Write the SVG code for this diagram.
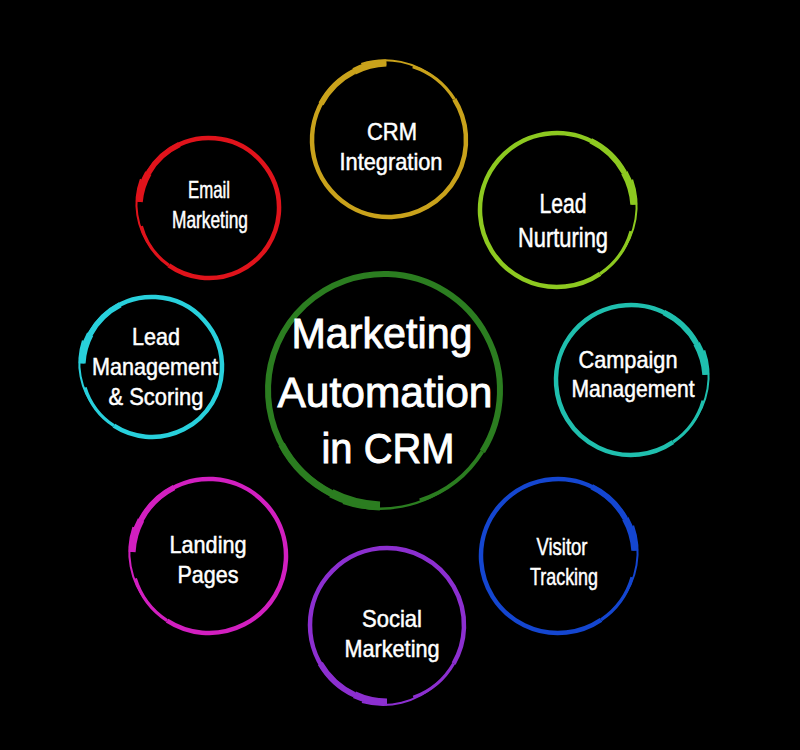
<svg xmlns="http://www.w3.org/2000/svg" xmlns:xlink="http://www.w3.org/1999/xlink" width="800" height="750" viewBox="0 0 800 750">
<style>
path{fill:none}
.m{stroke-width:4.5}
.m2{stroke-width:3.2}
.k1{stroke-width:7}
.k2{stroke-width:5.6}
.t{stroke-width:2}
.cm{stroke-width:6}
.cm2{stroke-width:4}
.ck1{stroke-width:9}
.ck2{stroke-width:7}
.ct{stroke-width:2.5}
text{font-family:"Liberation Sans",Arial,sans-serif;fill:#fff;stroke:#fff;text-anchor:middle}
.s{font-size:24px;stroke-width:0.5}
.b{font-size:43px;stroke-width:0.9}
</style>
<defs>
<g id="r70">
<path class="m" d="M70,0 A70 70 0 0 1 -70,0 A70 70 0 0 1 35,-60.62"/>
<path class="m2" d="M35,-60.62 A70 70 0 0 1 65.78,-23.94"/>
<path class="k1" d="M70,0 A70 70 0 0 1 63.44,29.58"/>
<path class="k2" d="M63.44,29.58 A70 70 0 0 1 35,60.62"/>
<path class="t" d="M53.62,-45 A72 72 0 0 1 70.38,22.87"/>
</g>
<g id="r75">
<path class="m" d="M75,0 A75 75 0 0 1 -75,0 A75 75 0 0 1 37.5,-64.95"/>
<path class="m2" d="M37.5,-64.95 A75 75 0 0 1 70.48,-25.65"/>
<path class="k1" d="M75,0 A75 75 0 0 1 67.97,31.7"/>
<path class="k2" d="M67.97,31.7 A75 75 0 0 1 37.5,64.95"/>
<path class="t" d="M57.45,-48.21 A77 77 0 0 1 75.14,24.41"/>
</g>
<g id="r77">
<path class="m" d="M77,0 A77 77 0 0 1 -77,0 A77 77 0 0 1 38.5,-66.68"/>
<path class="m2" d="M38.5,-66.68 A77 77 0 0 1 72.36,-26.33"/>
<path class="k1" d="M77,0 A77 77 0 0 1 69.79,32.54"/>
<path class="k2" d="M69.79,32.54 A77 77 0 0 1 38.5,66.68"/>
<path class="t" d="M58.98,-49.5 A79 79 0 0 1 77.04,25.03"/>
</g>
<g id="r116">
<path class="cm" d="M116,0 A116 116 0 0 1 -116,0 A116 116 0 0 1 58,-100.46"/>
<path class="cm2" d="M58,-100.46 A116 116 0 0 1 109.01,-39.67"/>
<path class="ck1" d="M116,0 A116 116 0 0 1 105.13,49.02"/>
<path class="ck2" d="M105.13,49.02 A116 116 0 0 1 58,100.46"/>
<path class="ct" d="M88.86,-74.56 A118 118 0 0 1 114.13,37.08"/>
</g>
</defs>
<rect width="800" height="750" fill="#000"/>
<g id="connectors"></g>
<g id="center">
<use xlink:href="#r116" transform="translate(384,390) rotate(92)" stroke="#2b7d20"/>
<text class="b" x="382" y="348" textLength="181" lengthAdjust="spacingAndGlyphs">Marketing</text>
<text class="b" x="385" y="407" textLength="215" lengthAdjust="spacingAndGlyphs">Automation</text>
<text class="b" x="388" y="463" textLength="133" lengthAdjust="spacingAndGlyphs">in CRM</text>
</g>
<g id="crm-integration">
<use xlink:href="#r77" transform="translate(389,140) rotate(268) scale(1,-1)" stroke="#c9a21b"/>
<text class="s" x="392" y="140" textLength="50" lengthAdjust="spacingAndGlyphs">CRM</text>
<text class="s" x="391" y="170" textLength="103" lengthAdjust="spacingAndGlyphs">Integration</text>
</g>
<g id="email-marketing">
<use xlink:href="#r70" transform="translate(209,208) rotate(185)" stroke="#e0131b"/>
<text class="s" x="209" y="198" textLength="42" lengthAdjust="spacingAndGlyphs">Email</text>
<text class="s" x="210" y="228" textLength="76" lengthAdjust="spacingAndGlyphs">Marketing</text>
</g>
<g id="lead-nurturing">
<use xlink:href="#r77" transform="translate(557,210) rotate(356) scale(1,-1)" stroke="#8dc920"/>
<text class="s" x="563" y="213" textLength="47" lengthAdjust="spacingAndGlyphs" style="font-size:27px">Lead</text>
<text class="s" x="563" y="247" textLength="90" lengthAdjust="spacingAndGlyphs" style="font-size:27px">Nurturing</text>
</g>
<g id="lead-management">
<use xlink:href="#r70" transform="translate(152,367) rotate(183)" stroke="#28d0dc"/>
<text class="s" x="156" y="345" textLength="48" lengthAdjust="spacingAndGlyphs">Lead</text>
<text class="s" x="155" y="375" textLength="126" lengthAdjust="spacingAndGlyphs">Management</text>
<text class="s" x="156" y="405" textLength="95" lengthAdjust="spacingAndGlyphs">&amp; Scoring</text>
</g>
<g id="campaign-management">
<use xlink:href="#r75" transform="translate(631,380) rotate(356) scale(1,-1)" stroke="#1fbfae"/>
<text class="s" x="628" y="368" textLength="99" lengthAdjust="spacingAndGlyphs">Campaign</text>
<text class="s" x="633" y="397" textLength="123" lengthAdjust="spacingAndGlyphs">Management</text>
</g>
<g id="visitor-tracking">
<use xlink:href="#r77" transform="translate(558,556) rotate(356) scale(1,-1)" stroke="#1446d0"/>
<text class="s" x="562" y="555" textLength="51" lengthAdjust="spacingAndGlyphs">Visitor</text>
<text class="s" x="564" y="585" textLength="68" lengthAdjust="spacingAndGlyphs">Tracking</text>
</g>
<g id="social-marketing">
<use xlink:href="#r77" transform="translate(387,625) rotate(90)" stroke="#8c2fd0"/>
<text class="s" x="392" y="627" textLength="60" lengthAdjust="spacingAndGlyphs">Social</text>
<text class="s" x="392" y="657" textLength="95" lengthAdjust="spacingAndGlyphs">Marketing</text>
</g>
<g id="landing-pages">
<use xlink:href="#r77" transform="translate(209,556) rotate(183)" stroke="#d21fc0"/>
<text class="s" x="208" y="553" textLength="77" lengthAdjust="spacingAndGlyphs">Landing</text>
<text class="s" x="208" y="583" textLength="61" lengthAdjust="spacingAndGlyphs">Pages</text>
</g>
</svg>
